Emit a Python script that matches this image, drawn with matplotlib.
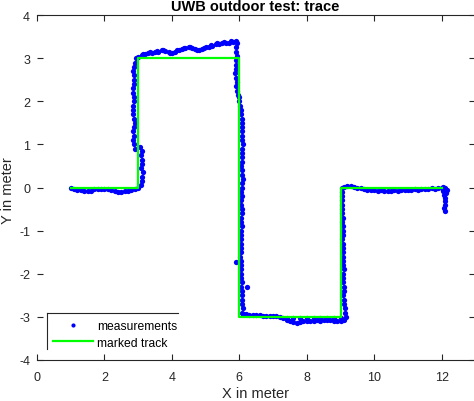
import matplotlib
matplotlib.use('Agg')
import matplotlib.pyplot as plt
from matplotlib.lines import Line2D
import numpy as np

plt.rcParams['font.family'] = ['Liberation Sans', 'DejaVu Sans']
plt.rcParams['axes.unicode_minus'] = False

# marked track (corners)
track_x = [1, 3, 3, 6, 6, 9, 9, 12]
track_y = [0, 0, 3, 3, -3, -3, 0, 0]

start_x = [1.0, 1.1, 1.2, 1.3, 1.4, 1.5, 1.6, 1.7, 1.8, 1.9, 2.0, 2.1, 2.2, 2.3, 2.4, 2.5, 2.6, 2.7, 2.8, 2.9, 3.0]
start_y = [-0.02, -0.03, -0.05, -0.06, -0.08, -0.07, -0.07, -0.04, -0.03, -0.04, -0.03, -0.03, -0.05, -0.08, -0.1, -0.1, -0.09, -0.08, -0.06, -0.04, -0.02]

up1_x = [3.08, 3.12, 3.1, 3.13, 3.09, 3.11, 3.12, 3.08, 3.1, 3.06]
up1_y = [0.05, 0.15, 0.25, 0.35, 0.45, 0.55, 0.65, 0.75, 0.85, 0.95]

up2_x = [2.9, 2.88, 2.86, 2.87, 2.85, 2.88, 2.9, 2.87, 2.85, 2.84, 2.86, 2.88, 2.87, 2.85, 2.86, 2.88, 2.89, 2.87, 2.86, 2.88, 2.9, 2.93]
up2_y = [0.9, 1.0, 1.1, 1.2, 1.3, 1.4, 1.5, 1.6, 1.7, 1.8, 1.9, 2.0, 2.1, 2.2, 2.3, 2.4, 2.5, 2.6, 2.7, 2.8, 2.9, 3.0]

top_x = [3.0, 3.1, 3.2, 3.3, 3.4, 3.5, 3.6, 3.7, 3.8, 3.9, 4.0, 4.1, 4.2, 4.3, 4.4, 4.5, 4.6, 4.7, 4.8, 4.9, 5.0, 5.1, 5.2, 5.3, 5.4, 5.5, 5.6, 5.7, 5.8, 5.9,
         3.15, 3.35, 3.55, 3.75, 3.95, 4.15, 4.35, 4.55, 4.75, 4.95, 5.15, 5.35, 5.55, 5.75]
top_y = [3.03, 3.07, 3.1, 3.12, 3.13, 3.14, 3.15, 3.18, 3.16, 3.14, 3.11, 3.15, 3.2, 3.22, 3.23, 3.25, 3.24, 3.21, 3.18, 3.22, 3.25, 3.27, 3.29, 3.32, 3.34, 3.35, 3.36, 3.36, 3.38, 3.4,
         3.1, 3.14, 3.16, 3.19, 3.12, 3.19, 3.24, 3.26, 3.2, 3.24, 3.3, 3.35, 3.37, 3.39]

down1_x = [5.92, 5.91, 5.9, 5.92, 5.89, 5.9, 5.91, 5.88, 5.9, 5.92, 5.91, 5.93, 5.95]
down1_y = [3.35, 3.25, 3.15, 3.05, 2.95, 2.85, 2.75, 2.65, 2.55, 2.45, 2.35, 2.25, 2.15]

down2_x = [5.98, 6.0, 6.03, 6.05, 6.06, 6.08, 6.07, 6.09, 6.08, 6.07, 6.09, 6.1, 6.08, 6.07, 6.09, 6.08, 6.06,
           6.08, 6.09, 6.1, 6.08, 6.07, 6.06, 6.08, 6.05, 6.06, 6.08, 6.07, 6.06, 6.05, 6.07, 6.06, 6.05, 6.06,
           6.04, 6.05, 6.04, 6.03, 6.04, 6.05, 6.06, 6.05, 6.06, 6.07, 6.06, 6.07, 6.08, 6.07, 6.08, 6.1, 6.09]
down2_y = [2.1, 2.0, 1.9, 1.8, 1.7, 1.6, 1.5, 1.4, 1.3, 1.2, 1.1, 1.0, 0.9, 0.8, 0.7, 0.6, 0.5,
           0.4, 0.3, 0.2, 0.1, 0.0, -0.1, -0.2, -0.3, -0.4, -0.5, -0.6, -0.7, -0.8, -0.9, -1.0, -1.1, -1.2,
           -1.3, -1.4, -1.5, -1.6, -1.7, -1.8, -1.9, -2.0, -2.1, -2.2, -2.3, -2.4, -2.5, -2.6, -2.7, -2.8, -2.9]

bottom_x = [6.1, 6.2, 6.3, 6.4, 6.5, 6.6, 6.7, 6.8, 6.9, 7.0, 7.1, 7.2, 7.3, 7.4, 7.5, 7.6, 7.7, 7.8, 7.9, 8.0,
            8.1, 8.2, 8.3, 8.4, 8.5, 8.6, 8.7, 8.8, 8.9, 9.0, 9.1,
            7.4, 7.6, 7.8, 8.0, 8.2, 8.4, 8.6, 8.8, 9.0]
bottom_y = [-2.93, -2.94, -2.95, -2.96, -2.95, -2.96, -2.97, -2.97, -2.98, -2.98, -2.99, -3.0, -3.03, -3.07, -3.1,
            -3.12, -3.14, -3.12, -3.1, -3.1, -3.09, -3.1, -3.08, -3.09, -3.08, -3.07, -3.08, -3.09, -3.1, -3.1, -3.08,
            -3.02, -3.03, -3.02, -3.03, -3.02, -3.03, -3.02, -3.03, -3.02]

up3_x = [9.15, 9.14, 9.12, 9.1, 9.09, 9.08, 9.09, 9.1, 9.08, 9.07, 9.08, 9.09, 9.08, 9.07, 9.06, 9.07,
         9.08, 9.06, 9.05, 9.06, 9.07, 9.06, 9.05, 9.06, 9.05, 9.04, 9.05, 9.04, 9.05, 9.04, 9.05]
up3_y = [-3.0, -2.9, -2.8, -2.7, -2.6, -2.5, -2.4, -2.3, -2.2, -2.1, -2.0, -1.9, -1.8, -1.7, -1.6, -1.5,
         -1.4, -1.3, -1.2, -1.1, -1.0, -0.9, -0.8, -0.7, -0.6, -0.5, -0.4, -0.3, -0.2, -0.1, 0.0]

end_x = [9.1, 9.2, 9.3, 9.4, 9.5, 9.6, 9.7, 9.8, 9.9, 10.0, 10.1, 10.2, 10.3, 10.4, 10.5, 10.6, 10.7, 10.8,
         10.9, 11.0, 11.1, 11.2, 11.3, 11.4, 11.5, 11.6, 11.7, 11.8, 11.9, 12.0]
end_y = [0.02, 0.03, 0.03, 0.02, 0.0, -0.02, -0.04, -0.05, -0.06, -0.06, -0.07, -0.06, -0.07, -0.08, -0.07,
         -0.06, -0.07, -0.06, -0.05, -0.06, -0.05, -0.04, -0.05, -0.04, -0.03, -0.03, -0.02, -0.03, -0.02, 0.0]

tail_x = [12.05, 12.1, 12.15, 12.05, 12.12, 12.08, 12.1, 12.09, 12.1, 12.08, 12.09]
tail_y = [0.02, -0.02, -0.05, -0.08, -0.12, -0.18, -0.25, -0.32, -0.4, -0.47, -0.55]

outlier_x = [6.24, 5.89]
outlier_y = [-2.31, -1.73]

meas_x = np.concatenate([start_x, up1_x, up2_x, top_x, down1_x, down2_x, bottom_x, up3_x, end_x, tail_x, outlier_x])
meas_y = np.concatenate([start_y, up1_y, up2_y, top_y, down1_y, down2_y, bottom_y, up3_y, end_y, tail_y, outlier_y])

gray = '#262626'

fig = plt.figure(figsize=(4.74, 4.02), dpi=100)
ax = fig.add_axes([0.078, 0.102, 0.925, 0.858])

ax.plot(meas_x, meas_y, 'o', color='blue', markersize=3.8, markeredgewidth=0, zorder=2)
ax.plot(track_x, track_y, '-', color=(0, 1, 0), linewidth=1.6, zorder=3)

ax.set_xlim(0, 13)
ax.set_ylim(-4, 4)
ax.set_xticks([0, 2, 4, 6, 8, 10, 12])
ax.set_yticks([-4, -3, -2, -1, 0, 1, 2, 3, 4])
ax.tick_params(direction='in', top=True, right=True, length=4, width=0.8,
               colors=gray, labelsize=9)
ax.tick_params(axis='x', pad=8)
ax.tick_params(axis='y', pad=5)
ax.spines['left'].set_visible(False)
for s in ['top', 'bottom', 'right']:
    ax.spines[s].set_color(gray)
    ax.spines[s].set_linewidth(0.8)

fig.text(0.538, 0.982, 'UWB outdoor test: trace', ha='center', va='center',
         fontsize=10.5, fontweight='bold', color='black')
fig.text(0.54, 0.02, 'X in meter', ha='center', va='center', fontsize=10.5, color=gray)
fig.text(0.016, 0.527, 'Y in meter', ha='center', va='center', rotation=90, fontsize=10.5, color=gray)

handles = [Line2D([], [], marker='o', linestyle='none', color='blue', markersize=3, markeredgewidth=0),
           Line2D([], [], color=(0, 1, 0), linewidth=1.6)]
leg = fig.legend(handles, ['measurements', 'marked track'], loc='upper left',
                 bbox_to_anchor=(0.092, 0.226), frameon=False, fontsize=8.7,
                 handlelength=3.3, handletextpad=0.3, borderpad=0.3, labelspacing=0.4)

# legend box: only the top and left edges show
fig.add_artist(Line2D([0.099, 0.3755], [0.219, 0.219], transform=fig.transFigure, color=gray, linewidth=0.8))
fig.add_artist(Line2D([0.099, 0.099], [0.219, 0.129], transform=fig.transFigure, color=gray, linewidth=0.8))

fig.savefig('out.png', dpi=100)
